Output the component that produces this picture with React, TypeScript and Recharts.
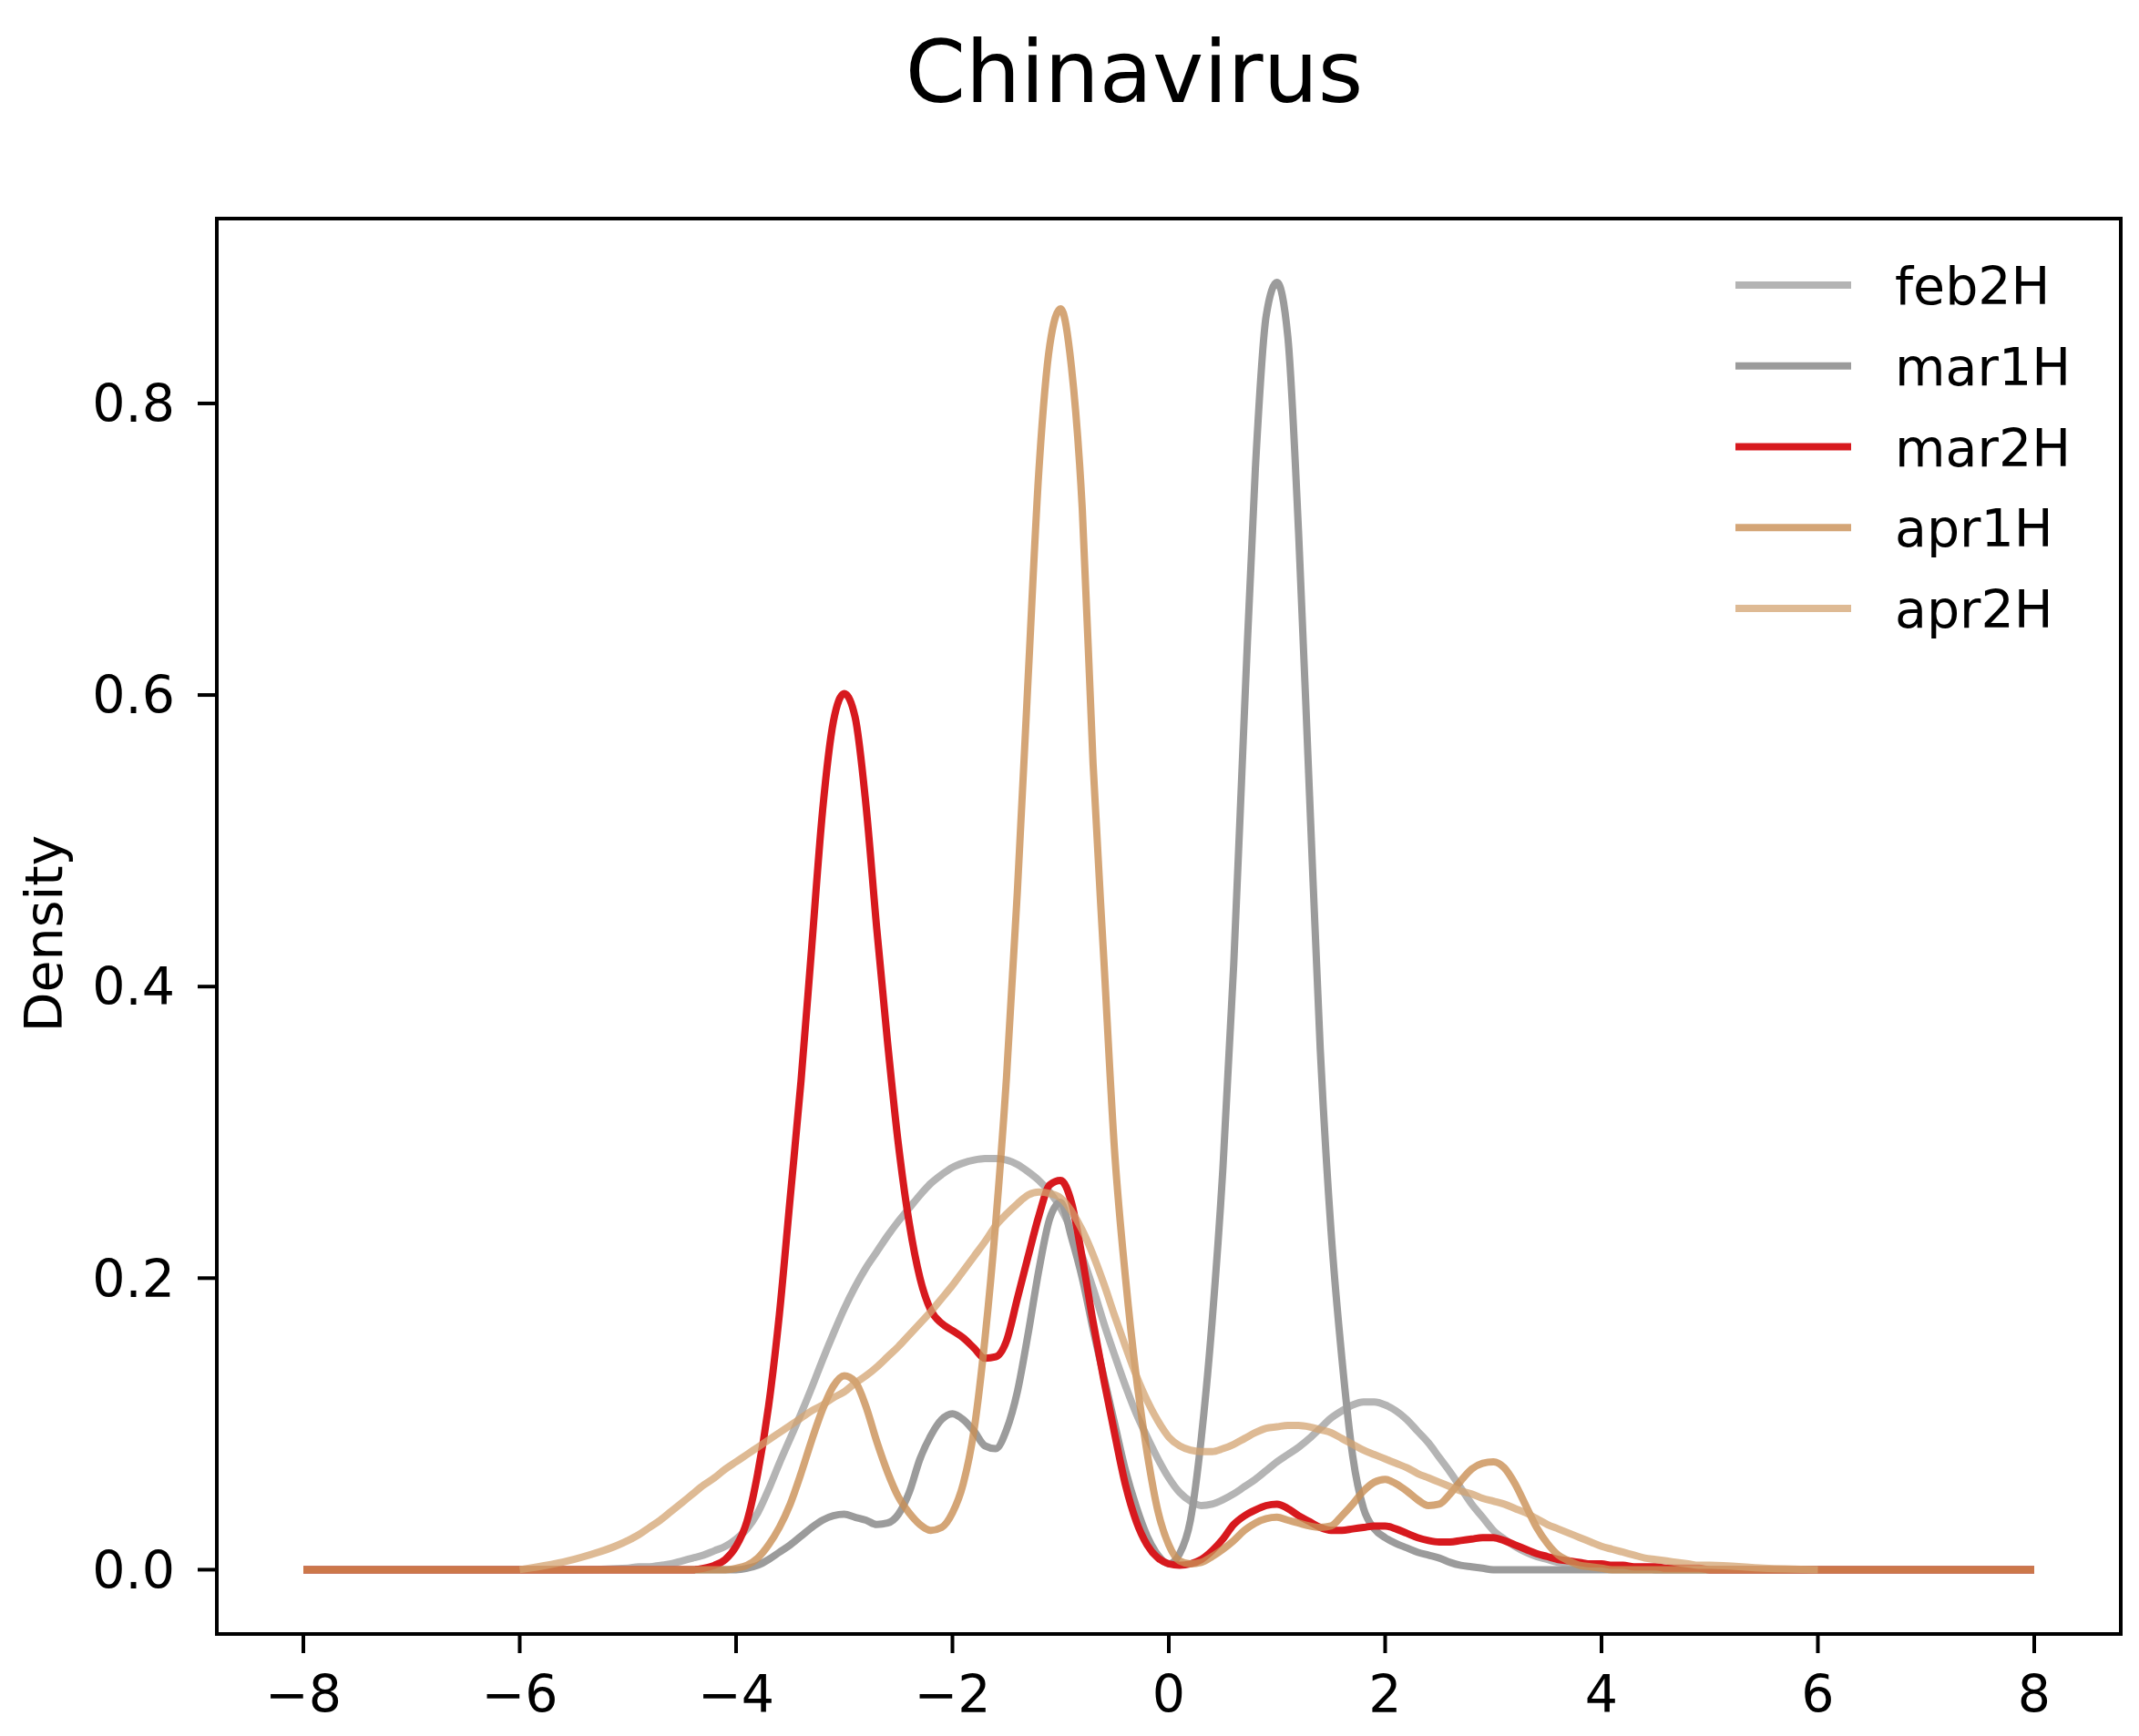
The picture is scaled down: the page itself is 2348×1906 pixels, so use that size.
import React from 'react';
import { LineChart, Line, XAxis, YAxis, ReferenceArea } from 'recharts';

const xValues = [
  -8, -7.5, -7, -6.5, -6, -5.5,
  -5, -4.9, -4.8, -4.7, -4.6, -4.5, -4.4, -4.3, -4.2, -4.1,
  -4, -3.9, -3.8, -3.7, -3.6, -3.5, -3.4, -3.3, -3.2, -3.1,
  -3, -2.9, -2.8, -2.7, -2.6, -2.5, -2.4, -2.3, -2.2, -2.1,
  -2, -1.9, -1.8, -1.7, -1.6, -1.5, -1.4, -1.3, -1.2, -1.1,
  -1, -0.9, -0.8, -0.7, -0.6, -0.5, -0.4, -0.3, -0.2, -0.1,
  0, 0.1, 0.2, 0.3, 0.4, 0.5, 0.6, 0.7, 0.8, 0.9,
  1, 1.1, 1.2, 1.3, 1.4, 1.5, 1.6, 1.7, 1.8, 1.9,
  2, 2.1, 2.2, 2.3, 2.4, 2.5, 2.6, 2.7, 2.8, 2.9,
  3, 3.1, 3.2, 3.3, 3.4, 3.5, 3.6, 3.7, 3.8, 3.9,
  4, 4.1, 4.2, 4.3, 4.4, 4.5, 4.6, 4.7, 4.8, 4.9,
  5,
  5.5, 6, 6.5, 7, 7.5, 8,
];

const feb2H = [
  0, 0, 0, 0, 0, 0,
  0.001, 0.002, 0.002, 0.003, 0.004, 0.006, 0.008, 0.010, 0.013, 0.016,
  0.021, 0.028, 0.039, 0.055, 0.073, 0.090, 0.107, 0.125, 0.144, 0.162,
  0.179, 0.194, 0.207, 0.218, 0.229, 0.239, 0.248, 0.257, 0.265, 0.271,
  0.276, 0.279, 0.281, 0.282, 0.282, 0.281, 0.278, 0.273, 0.267, 0.259,
  0.248, 0.233, 0.215, 0.193, 0.169, 0.147, 0.126, 0.107, 0.091, 0.076,
  0.063, 0.053, 0.047, 0.044, 0.045, 0.048, 0.052, 0.057, 0.062, 0.068,
  0.074, 0.079, 0.084, 0.090, 0.097, 0.104, 0.109, 0.113, 0.115, 0.115,
  0.113, 0.109, 0.103, 0.095, 0.087, 0.077, 0.067, 0.056, 0.045, 0.036,
  0.027, 0.021, 0.016, 0.012, 0.009, 0.007, 0.005, 0.004, 0.003, 0.002,
  0.002, 0.001, 0.001, 0.001, 0.001, 0, 0, 0, 0, 0,
  0,
  0, 0, 0, 0, 0, 0,
];

const mar1H = [
  0, 0, 0, 0, 0, 0,
  0, 0, 0, 0, 0, 0, 0, 0, 0, 0,
  0, 0.001, 0.003, 0.007, 0.012, 0.017, 0.023, 0.029, 0.034, 0.037,
  0.038, 0.036, 0.034, 0.031, 0.032, 0.038, 0.053, 0.076, 0.092, 0.103,
  0.107, 0.103, 0.095, 0.085, 0.083, 0.096, 0.122, 0.162, 0.206, 0.241,
  0.252, 0.228, 0.200, 0.165, 0.132, 0.100, 0.068, 0.043, 0.023, 0.010,
  0.004, 0.011, 0.034, 0.090, 0.170, 0.275, 0.415, 0.590, 0.755, 0.860,
  0.883, 0.846, 0.711, 0.533, 0.357, 0.232, 0.145, 0.078, 0.042, 0.028,
  0.022, 0.018, 0.015, 0.012, 0.010, 0.008, 0.005, 0.003, 0.002, 0.001,
  0, 0, 0, 0, 0, 0, 0, 0, 0, 0,
  0, 0, 0, 0, 0, 0, 0, 0, 0, 0,
  0,
  0, 0, 0, 0, 0, 0,
];

const mar2H = [
  0, 0, 0, 0, 0, 0,
  0, 0, 0, 0, 0, 0, 0, 0.001, 0.003, 0.007,
  0.016, 0.033, 0.066, 0.112, 0.175, 0.255, 0.335, 0.428, 0.521, 0.582,
  0.601, 0.585, 0.525, 0.440, 0.362, 0.292, 0.238, 0.200, 0.178, 0.169,
  0.164, 0.159, 0.152, 0.145, 0.146, 0.157, 0.186, 0.215, 0.243, 0.264,
  0.267, 0.252, 0.214, 0.170, 0.130, 0.093, 0.058, 0.033, 0.017, 0.008,
  0.004, 0.003, 0.004, 0.007, 0.013, 0.021, 0.031, 0.037, 0.041, 0.044,
  0.045, 0.042, 0.037, 0.033, 0.029, 0.027, 0.027, 0.028, 0.029, 0.030,
  0.030, 0.028, 0.025, 0.022, 0.020, 0.019, 0.019, 0.020, 0.021, 0.022,
  0.022, 0.020, 0.017, 0.014, 0.011, 0.009, 0.007, 0.006, 0.005, 0.004,
  0.004, 0.003, 0.003, 0.002, 0.002, 0.002, 0.001, 0.001, 0.001, 0.001,
  0,
  0, 0, 0, 0, 0, 0,
];

const apr1H = [
  0, 0, 0, 0, 0, 0,
  0, 0, 0, 0, 0, 0, 0, 0, 0, 0,
  0.001, 0.003, 0.008, 0.017, 0.029, 0.045, 0.066, 0.089, 0.110, 0.126,
  0.133, 0.129, 0.112, 0.088, 0.067, 0.050, 0.039, 0.031, 0.027, 0.029,
  0.039, 0.059, 0.096, 0.158, 0.238, 0.338, 0.465, 0.612, 0.755, 0.840,
  0.865, 0.825, 0.728, 0.553, 0.418, 0.286, 0.200, 0.132, 0.080, 0.040,
  0.017, 0.006, 0.004, 0.005, 0.009, 0.014, 0.020, 0.027, 0.032, 0.035,
  0.036, 0.034, 0.032, 0.030, 0.029, 0.030, 0.037, 0.045, 0.054, 0.060,
  0.062, 0.059, 0.054, 0.048, 0.044, 0.045, 0.052, 0.061, 0.069, 0.073,
  0.074, 0.070, 0.059, 0.044, 0.029, 0.018, 0.010, 0.006, 0.003, 0.002,
  0.001, 0, 0, 0, 0, 0, 0, 0, 0, 0,
  0,
  0, 0, 0, 0, 0, 0,
];

const apr2H = [
  null, null, null, null, 0, 0.007,
  0.020, 0.024, 0.029, 0.034, 0.040, 0.046, 0.052, 0.058, 0.063, 0.069,
  0.074, 0.079, 0.084, 0.089, 0.094, 0.099, 0.104, 0.109, 0.113, 0.118,
  0.122, 0.128, 0.133, 0.139, 0.146, 0.153, 0.161, 0.169, 0.177, 0.186,
  0.195, 0.205, 0.215, 0.225, 0.236, 0.244, 0.251, 0.257, 0.259, 0.258,
  0.255, 0.246, 0.233, 0.216, 0.196, 0.174, 0.153, 0.133, 0.116, 0.102,
  0.091, 0.085, 0.082, 0.081, 0.081, 0.083, 0.086, 0.090, 0.094, 0.097,
  0.098, 0.099, 0.099, 0.098, 0.096, 0.094, 0.090, 0.086, 0.082, 0.079,
  0.076, 0.073, 0.070, 0.066, 0.063, 0.060, 0.057, 0.054, 0.052, 0.049,
  0.047, 0.045, 0.042, 0.039, 0.035, 0.031, 0.028, 0.025, 0.022, 0.019,
  0.016, 0.014, 0.012, 0.010, 0.008, 0.007, 0.006, 0.005, 0.004, 0.003,
  0.003,
  0.001, 0, null, null, null, null,
];

const xTicks = [-8, -6, -4, -2, 0, 2, 4, 6, 8];
const yTicks = [0, 0.2, 0.4, 0.6, 0.8];

const seriesNames = ['feb2H', 'mar1H', 'mar2H', 'apr1H', 'apr2H'];
const seriesColors = ['#b4b4b4', '#9b9b9b', '#d7191e', '#c98f54', '#d3a370'];
const seriesOpacity = [1, 1, 1, 0.8, 0.75];
const seriesValues = [feb2H, mar1H, mar2H, apr1H, apr2H];

const data = xValues.map((x, i) => {
  const row: Record<string, number | null> = { x };
  seriesNames.forEach((n, k) => {
    row[n] = seriesValues[k][i];
  });
  return row;
});

const FONT = 'DejaVu Sans';
const fmtX = (v: number) => (v < 0 ? '\u2212' + Math.abs(v) : String(v));
const fmtY = (v: number) => v.toFixed(1);

export default function App() {
  return (
    <div style={{ position: 'absolute', left: 0, top: 0, width: 2348, height: 1906, background: '#fff' }}>
      <LineChart
        width={2348}
        height={1906}
        data={data}
        margin={{ top: 240, right: 20, bottom: 12, left: 138 }}
      >
        <XAxis
          dataKey="x"
          type="number"
          domain={[-8.8, 8.8]}
          allowDataOverflow
          ticks={xTicks}
          interval={0}
          tickFormatter={fmtX}
          height={100}
          axisLine={false}
          tickLine={{ stroke: '#000', strokeWidth: 4 }}
          tickSize={21}
          tickMargin={25}
          tick={{ fontSize: 57, fill: '#000', fontFamily: FONT }}
        />
        <YAxis
          type="number"
          domain={[-0.0441, 0.9268]}
          allowDataOverflow
          ticks={yTicks}
          interval={0}
          tickFormatter={fmtY}
          width={100}
          axisLine={false}
          tickLine={{ stroke: '#000', strokeWidth: 4 }}
          tickSize={21}
          tickMargin={25}
          tick={{ fontSize: 57, fill: '#000', fontFamily: FONT }}
        />
        {seriesNames.map((n, k) => (
          <Line
            key={n}
            dataKey={n}
            type="monotone"
            stroke={seriesColors[k]}
            strokeOpacity={seriesOpacity[k]}
            strokeWidth={8}
            dot={false}
            activeDot={false}
            isAnimationActive={false}
            connectNulls={false}
          />
        ))}
        <ReferenceArea
          x1={-8.8}
          x2={8.8}
          y1={-0.0441}
          y2={0.9268}
          fill="none"
          fillOpacity={0}
          stroke="#000"
          strokeWidth={4}
          ifOverflow="visible"
        />
      </LineChart>
      <svg
        width={2348}
        height={1906}
        style={{ position: 'absolute', left: 0, top: 0, pointerEvents: 'none' }}
      >
        <text x={1245} y={112} textAnchor="middle" fontSize={95} fontFamily={FONT} fill="#000">
          Chinavirus
        </text>
        <text
          x={68}
          y={1025}
          textAnchor="middle"
          fontSize={57}
          fontFamily={FONT}
          fill="#000"
          transform="rotate(-90 68 1025)"
        >
          Density
        </text>
        {seriesNames.map((n, k) => {
          const y = 313 + k * 88.75;
          return (
            <g key={n}>
              <line
                x1={1905}
                x2={2032}
                y1={y}
                y2={y}
                stroke={seriesColors[k]}
                strokeOpacity={seriesOpacity[k]}
                strokeWidth={8}
              />
              <text x={2080} y={y + 21} fontSize={57} fontFamily={FONT} fill="#000">
                {n}
              </text>
            </g>
          );
        })}
      </svg>
    </div>
  );
}
